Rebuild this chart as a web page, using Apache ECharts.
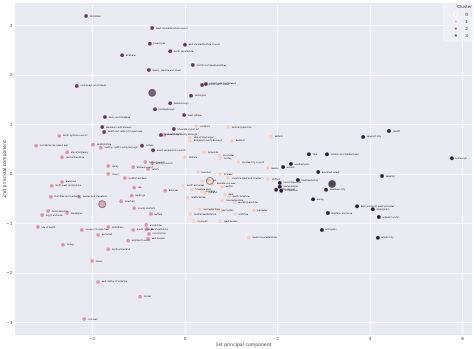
<!DOCTYPE html>
<html>
<head>
<meta charset="utf-8">
<script src="https://cdn.jsdelivr.net/npm/echarts@6/dist/echarts.min.js"></script>
<style>html,body{margin:0;padding:0;background:#fff}#c{width:474px;height:349px}</style>
</head>
<body>
<div id="c"></div>
<script>
// ---- data ----
const xTicks = [-2, 0, 2, 4, 6];
const yTicks = [-3, -2, -1, 0, 1, 2, 3];
const clusterLabels = ['0', '1', '2', '3'];

const cluster0Names = ['Flintshire','Northamptonshire','Vale of Glamorgan','Bridgend County Borough','Bedford','Salford','Tameside','Oldham','Doncaster','Dudley','Dundee City Council','Bexley','Swindon','Kirklees','Cheshire West and Chester','Mansfield','Stockton-on-Tees','North Somerset','Cheshire East','Cumbria','Sefton','Staffordshire','Rutland','Kent','Gloucestershire','North Yorkshire','Buckinghamshire','Leicester','Warrington','Worcestershire','Wiltshire','Central Bedfordshire','Plymouth','West Sussex','South Gloucestershire','Trafford'];
const cluster0X = [0.24,0.93,0.11,0.11,1.02,1.86,0.41,0.00,0.74,0.76,1.15,1.79,0.28,0.76,0.93,0.37,0.61,-0.04,0.15,0.37,0.80,0.06,0.43,0.86,0.80,0.95,1.08,1.49,0.71,0.32,1.08,0.11,0.19,0.76,1.38,1.79];
const cluster0Y = [0.97,0.95,0.73,0.67,0.67,0.75,0.44,0.34,0.38,0.32,0.24,0.12,0.04,0.00,-0.08,-0.14,-0.20,-0.24,-0.32,-0.36,-0.26,-0.48,-0.38,-0.42,-0.53,-0.46,-0.57,-0.73,-0.73,-0.71,-0.81,-0.81,-0.95,-0.95,-1.29,-0.10];

const cluster1Names = ['North Ayrshire Council','Comhairle nan Eilean Siar','Denbighshire','Merthyr Tydfil County Borough','Isle of Anglesey','Carmarthenshire','Caerphilly County Borough','Moray','Stoke-on-Trent','Angus Council','Falkirk','Powys','Scottish Borders','Blackpool','North East Lincolnshire','Fife','Dumfries and Galloway','Redcar and Cleveland','Wrexham','Hastings','County Durham','Pembrokeshire','Argyll and Bute','Ceredigion','Suffolk','Isle of Wight','Conwy Principal Area','Midlothian','Somerset','South Tyneside','Shropshire','Monmouthshire','Lincolnshire','Highland Council','East Sussex','Torbay','Northumberland','Devon','East Riding of Yorkshire','Dorset','Cornwall','Stirling Council','Bolsover'];
const cluster1X = [-2.72,-3.22,-1.99,-1.82,-2.55,-2.66,-0.45,-1.66,-1.12,-0.86,-0.80,-1.66,-1.30,-2.66,-2.88,-1.10,-2.90,-2.29,-1.38,-1.15,-1.10,-2.96,-3.09,-2.55,-0.74,-3.18,-2.23,-1.66,-1.88,-1.12,-0.84,-0.82,-0.78,-1.23,-0.80,-2.64,-1.66,-2.01,-1.88,-0.97,-2.18,-0.71,-0.43];
const cluster1Y = [0.77,0.57,0.59,0.53,0.44,0.34,0.79,0.16,0.14,0.24,0.10,0.00,-0.08,-0.16,-0.24,-0.28,-0.46,-0.46,-0.55,-0.44,-0.69,-0.75,-0.83,-0.79,-0.81,-1.07,-1.13,-1.07,-1.23,-1.13,-1.03,-1.11,-1.21,-1.35,-1.31,-1.43,-1.52,-1.76,-2.18,-2.48,-2.93,0.22,-0.34];

const cluster2Names = ['Mid Ulster','West Dunbartonshire Council','Inverclyde','Strabane','Newry, Mourne and Down','Fermanagh and Omagh','East Dunbartonshire Council','North Lanarkshire','Antrim and Newtownabbey','Ards and North Down','Lisburn and Castlereagh','Darlington','Peterborough','Middlesbrough','West Lothian','Derry and Strabane','Blackburn with Darwen','Neath Port Talbot Principal Area','Rhondda Cynon Taf','Blaenau Gwent','Torfaen','South Lanarkshire Council'];
const cluster2X = [-2.14,-0.71,-0.76,-1.36,-0.78,-2.34,0.00,-0.32,0.17,0.37,0.45,0.13,-0.32,-0.65,-0.02,-1.73,-1.79,-1.75,-0.24,-0.52,-0.93,-0.69];
const cluster2Y = [3.19,2.95,2.63,2.40,2.10,1.78,2.61,2.48,2.20,1.80,1.82,1.58,1.43,1.31,1.19,1.15,0.95,0.85,0.91,0.79,0.57,0.48];

const cluster3Names = ['Cardiff','Newport City','York','Windsor and Maidenhead','Edinburgh','Bracknell Forest','Reading','West Berkshire','Aberdeen City','Surrey','Bath and North East Somerset','Wokingham','Brighton and Hove','Greater London','Hillingdon','Bristol City','Solihull','Southampton','Cambridgeshire','Warwickshire','Oxfordshire','Milton Keynes'];
const cluster3X = [4.41,3.85,2.68,3.07,5.77,2.88,4.26,2.44,3.05,2.77,3.72,4.06,3.09,4.19,2.96,4.17,2.12,2.29,2.05,2.05,2.08,1.97];
const cluster3Y = [0.87,0.75,0.40,0.40,0.32,0.04,-0.04,-0.12,-0.32,-0.51,-0.65,-0.71,-0.79,-0.87,-1.13,-1.29,0.14,0.20,-0.18,-0.26,-0.34,-0.32];

const centroidX = [0.54, -1.79, -0.71, 3.18];
const centroidY = [-0.14, -0.61, 1.64, -0.20];

// ---- styling ----
const colors = ['#edd1cb', '#d898a7', '#5e3b60', '#281b31'];
const font = 'DejaVu Sans';
const minus = v => String(v).replace('-', '\u2212');

const groups = [
  [cluster0Names, cluster0X, cluster0Y],
  [cluster1Names, cluster1X, cluster1Y],
  [cluster2Names, cluster2X, cluster2Y],
  [cluster3Names, cluster3X, cluster3Y]
];

const series = groups.map((g, k) => ({
  name: clusterLabels[k],
  type: 'scatter',
  symbol: 'circle',
  symbolSize: 4,
  itemStyle: { color: colors[k], borderColor: 'rgba(255,255,255,0.6)', borderWidth: 0.3, opacity: 1 },
  label: {
    show: true, position: 'right', distance: 1.5,
    formatter: p => p.name,
    fontSize: 2.2, color: '#222', fontFamily: font
  },
  data: g[0].map((n, i) => ({ name: n, value: [g[1][i], g[2][i]] })),
  z: 3
}));

series.push({
  name: 'centroids',
  type: 'scatter',
  symbol: 'circle',
  symbolSize: 7,
  data: centroidX.map((x, k) => ({
    value: [x, centroidY[k]],
    itemStyle: { color: colors[k], borderColor: '#555', borderWidth: 0.8 }
  })),
  z: 4
});

const chart = echarts.init(document.getElementById('c'), null, { renderer: 'canvas' });
chart.setOption({
  animation: false,
  backgroundColor: '#ffffff',
  textStyle: { fontFamily: font },
  grid: { left: 15, right: 2, top: 3, bottom: 14, containLabel: false, outerBoundsMode: 'none', show: true, backgroundColor: '#eaeaf2', borderWidth: 0 },
  xAxis: {
    type: 'value', min: -3.676, max: 6.205,
    name: '1st principal component', nameLocation: 'middle', nameGap: 7.5, nameMoveOverlap: false,
    nameTextStyle: { fontSize: 4.6, color: '#333', fontFamily: font },
    axisLine: { show: false },
    axisTick: { show: false, customValues: xTicks },
    axisLabel: { customValues: xTicks, fontSize: 4.2, color: '#444', margin: 2, formatter: minus, fontFamily: font },
    splitLine: { show: true, lineStyle: { color: '#ffffff', width: 0.8 } }
  },
  yAxis: {
    type: 'value', min: -3.253, max: 3.455,
    name: '2nd principal component', nameLocation: 'middle', nameGap: 8, nameMoveOverlap: false,
    nameTextStyle: { fontSize: 4.6, color: '#333', fontFamily: font },
    axisLine: { show: false },
    axisTick: { show: false, customValues: yTicks },
    axisLabel: { customValues: yTicks, fontSize: 4.2, color: '#444', margin: 2.5, formatter: minus, fontFamily: font },
    splitLine: { show: true, lineStyle: { color: '#ffffff', width: 0.8 } }
  },
  legend: {
    data: clusterLabels,
    orient: 'vertical',
    right: 1, top: 3,
    padding: [9, 5, 3, 10],
    itemWidth: 3, itemHeight: 3, itemGap: 2,
    icon: 'circle',
    backgroundColor: 'rgba(240,240,246,0.9)',
    borderColor: '#f7f7fa', borderWidth: 0.5, borderRadius: 1,
    textStyle: { fontSize: 4.2, color: '#333', lineHeight: 4, fontFamily: font, padding: [0, 0, 0, 3] }
  },
  graphic: [{
    type: 'text', right: 2, top: 5, z: 100,
    style: { text: 'Cluster', fontSize: 4.2, fill: '#333', fontFamily: font }
  }],
  series: series
});
</script>
</body>
</html>
